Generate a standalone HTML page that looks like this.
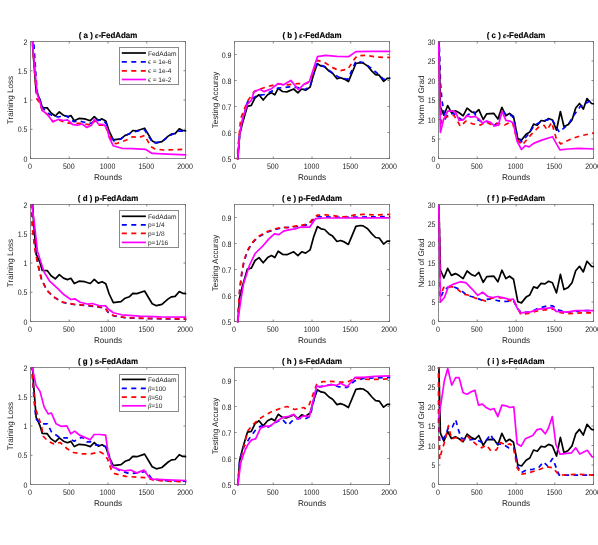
<!DOCTYPE html>
<html><head><meta charset="utf-8"><style>
html,body{margin:0;padding:0;background:#fff;width:598px;height:545px;overflow:hidden;position:relative}
svg{will-change:transform} svg text{font-family:"Liberation Sans",sans-serif;text-rendering:geometricPrecision}
</style></head><body>
<svg width="598" height="545" viewBox="0 0 598 545" style="display:block;position:absolute;left:0;top:0">
<rect x="0" y="0" width="598" height="545" fill="#ffffff"/>
<clipPath id="cp00"><rect x="29.5" y="41.0" width="157.0" height="118.5"/></clipPath>
<rect x="30.5" y="41.5" width="155.0" height="117.0" fill="none" stroke="#8a8a8a" stroke-width="1"/>
<g clip-path="url(#cp00)" fill="none" stroke-linejoin="round" stroke-linecap="butt">
<path d="M32.2,33.4 L33.4,56.5 L36.2,91.8 L37.5,93.9 L40.0,99.9 L42.3,107.6 L47.2,107.8 L51.1,113.0 L55.3,116.0 L59.3,111.9 L63.5,115.3 L67.5,116.8 L70.9,115.5 L74.3,120.7 L79.0,118.4 L84.7,118.9 L90.3,120.7 L94.3,116.6 L98.3,120.3 L102.1,118.9 L105.8,121.0 L109.2,131.2 L113.3,139.8 L121.0,138.8 L125.1,135.4 L129.3,134.0 L132.8,130.5 L136.9,130.8 L144.6,128.2 L152.2,140.9 L156.4,142.9 L161.9,141.6 L168.2,136.1 L171.6,134.0 L175.1,133.6 L179.3,128.8 L182.7,130.5 L186.5,130.8" stroke="#000000" stroke-width="1.7"/>
<path d="M33.0,35.4 L33.7,41.4 L36.5,83.4 L37.5,93.4 L40.0,100.4 L43.5,108.9 L49.4,114.1 L54.1,116.4 L58.7,117.0 L63.4,115.2 L67.5,116.4 L70.4,119.3 L74.0,121.7 L79.8,121.1 L84.5,122.3 L91.5,123.4 L94.5,119.3 L98.5,120.5 L103.2,119.9 L106.7,124.6 L109.2,134.0 L114.0,140.9 L120.3,139.1 L125.8,135.4 L132.8,131.9 L144.6,129.8 L152.9,143.0 L161.9,141.6 L170.2,135.4 L178.6,131.2 L186.5,131.2" stroke="#0000ff" stroke-width="1.7" stroke-dasharray="4.8 4.2"/>
<path d="M31.7,35.4 L32.2,41.4 L35.9,87.4 L36.9,99.0 L39.4,102.4 L42.3,110.5 L48.2,115.2 L52.9,121.7 L57.6,119.3 L64.6,122.3 L70.4,123.4 L79.8,123.4 L84.5,124.0 L91.5,125.2 L95.0,120.5 L98.5,125.2 L104.4,125.2 L107.9,131.6 L112.6,142.3 L116.1,143.7 L125.8,140.3 L132.8,136.8 L139.0,137.5 L144.6,135.4 L150.8,146.5 L155.0,148.9 L163.3,150.0 L174.4,149.7 L186.5,149.3" stroke="#ff0000" stroke-width="1.7" stroke-dasharray="4.8 4.2"/>
<path d="M32.0,37.4 L32.3,41.4 L37.1,93.4 L40.0,102.3 L42.3,110.5 L47.0,114.1 L52.9,121.7 L58.7,119.3 L63.4,120.5 L67.5,119.9 L72.8,124.6 L77.5,125.2 L82.2,124.0 L86.8,127.5 L91.5,125.2 L94.5,119.3 L98.5,124.0 L103.8,124.6 L107.1,128.4 L109.2,137.5 L113.3,145.8 L121.7,148.3 L132.8,148.6 L145.3,149.3 L152.2,153.4 L167.5,154.1 L186.5,154.8" stroke="#ff00ff" stroke-width="1.7"/>
</g>
<line x1="30.50" y1="158.5" x2="30.50" y2="156.5" stroke="#666" stroke-width="0.8"/>
<line x1="30.50" y1="41.5" x2="30.50" y2="43.5" stroke="#666" stroke-width="0.8"/>
<text transform="translate(30.00,168.5) scale(0.88,1)" text-anchor="middle" font-size="8.0" fill="#222">0</text>
<line x1="69.25" y1="158.5" x2="69.25" y2="156.5" stroke="#666" stroke-width="0.8"/>
<line x1="69.25" y1="41.5" x2="69.25" y2="43.5" stroke="#666" stroke-width="0.8"/>
<text transform="translate(68.75,168.5) scale(0.88,1)" text-anchor="middle" font-size="8.0" fill="#222">500</text>
<line x1="108.00" y1="158.5" x2="108.00" y2="156.5" stroke="#666" stroke-width="0.8"/>
<line x1="108.00" y1="41.5" x2="108.00" y2="43.5" stroke="#666" stroke-width="0.8"/>
<text transform="translate(107.50,168.5) scale(0.88,1)" text-anchor="middle" font-size="8.0" fill="#222">1000</text>
<line x1="146.75" y1="158.5" x2="146.75" y2="156.5" stroke="#666" stroke-width="0.8"/>
<line x1="146.75" y1="41.5" x2="146.75" y2="43.5" stroke="#666" stroke-width="0.8"/>
<text transform="translate(146.25,168.5) scale(0.88,1)" text-anchor="middle" font-size="8.0" fill="#222">1500</text>
<line x1="185.50" y1="158.5" x2="185.50" y2="156.5" stroke="#666" stroke-width="0.8"/>
<line x1="185.50" y1="41.5" x2="185.50" y2="43.5" stroke="#666" stroke-width="0.8"/>
<text transform="translate(185.00,168.5) scale(0.88,1)" text-anchor="middle" font-size="8.0" fill="#222">2000</text>
<line x1="30.5" y1="158.50" x2="32.5" y2="158.50" stroke="#666" stroke-width="0.8"/>
<line x1="185.5" y1="158.50" x2="183.5" y2="158.50" stroke="#666" stroke-width="0.8"/>
<text transform="translate(27.5,161.50) scale(0.88,1)" text-anchor="end" font-size="8.0" fill="#222">0</text>
<line x1="30.5" y1="129.25" x2="32.5" y2="129.25" stroke="#666" stroke-width="0.8"/>
<line x1="185.5" y1="129.25" x2="183.5" y2="129.25" stroke="#666" stroke-width="0.8"/>
<text transform="translate(27.5,132.25) scale(0.88,1)" text-anchor="end" font-size="8.0" fill="#222">0.5</text>
<line x1="30.5" y1="100.00" x2="32.5" y2="100.00" stroke="#666" stroke-width="0.8"/>
<line x1="185.5" y1="100.00" x2="183.5" y2="100.00" stroke="#666" stroke-width="0.8"/>
<text transform="translate(27.5,103.00) scale(0.88,1)" text-anchor="end" font-size="8.0" fill="#222">1</text>
<line x1="30.5" y1="70.75" x2="32.5" y2="70.75" stroke="#666" stroke-width="0.8"/>
<line x1="185.5" y1="70.75" x2="183.5" y2="70.75" stroke="#666" stroke-width="0.8"/>
<text transform="translate(27.5,73.75) scale(0.88,1)" text-anchor="end" font-size="8.0" fill="#222">1.5</text>
<line x1="30.5" y1="41.50" x2="32.5" y2="41.50" stroke="#666" stroke-width="0.8"/>
<line x1="185.5" y1="41.50" x2="183.5" y2="41.50" stroke="#666" stroke-width="0.8"/>
<text transform="translate(27.5,44.50) scale(0.88,1)" text-anchor="end" font-size="8.0" fill="#222">2</text>
<text x="108.0" y="179.7" text-anchor="middle" font-size="8.2" fill="#222">Rounds</text>
<text transform="translate(13.3,100.0) rotate(-90)" x="0" y="0" text-anchor="middle" font-size="8.1" fill="#222">Training Loss</text>
<text transform="translate(108.0,38.2) scale(0.97,1)" text-anchor="middle" font-size="8.2" font-weight="bold" fill="#000" stroke="#000" stroke-width="0.15">( a ) <tspan font-family='Liberation Serif' font-style='italic' font-weight='bold'>&#x3F5;</tspan>-FedAdam</text>
<rect x="119.5" y="47.5" width="59" height="37.0" fill="#fff" stroke="#8a8a8a" stroke-width="1"/>
<line x1="121.8" y1="53" x2="145.9" y2="53" stroke="#000000" stroke-width="1.7"/>
<text x="147.9" y="55.5" font-size="6.6" fill="#1e1e1e">FedAdam</text>
<line x1="121.8" y1="61.8" x2="145.9" y2="61.8" stroke="#0000ff" stroke-width="1.7" stroke-dasharray="5 4.5"/>
<text x="147.9" y="64.3" font-size="6.6" fill="#1e1e1e">&#x3F5; = 1e-6</text>
<line x1="121.8" y1="70.8" x2="145.9" y2="70.8" stroke="#ff0000" stroke-width="1.7" stroke-dasharray="5 4.5"/>
<text x="147.9" y="73.3" font-size="6.6" fill="#1e1e1e">&#x3F5; = 1e-4</text>
<line x1="121.8" y1="79.5" x2="145.9" y2="79.5" stroke="#ff00ff" stroke-width="1.7"/>
<text x="147.9" y="82.0" font-size="6.6" fill="#1e1e1e">&#x3F5; = 1e-2</text>
<clipPath id="cp01"><rect x="233.5" y="41.0" width="157.0" height="118.5"/></clipPath>
<rect x="234.5" y="41.5" width="155.0" height="117.0" fill="none" stroke="#8a8a8a" stroke-width="1"/>
<g clip-path="url(#cp01)" fill="none" stroke-linejoin="round" stroke-linecap="butt">
<path d="M237.1,176.4 L237.8,159.4 L239.7,134.3 L242.6,122.7 L247.4,106.3 L251.3,105.4 L255.1,97.7 L259.0,94.8 L263.2,100.0 L267.6,94.8 L271.5,92.8 L274.8,94.8 L278.2,88.4 L282.5,91.5 L286.9,91.9 L293.7,89.0 L297.9,92.8 L301.7,89.0 L305.6,90.3 L310.1,87.1 L313.7,74.0 L317.4,63.8 L321.0,66.0 L324.6,66.7 L329.0,71.1 L332.6,73.3 L337.0,78.7 L340.6,77.7 L344.3,79.1 L348.4,81.6 L355.9,63.5 L360.3,62.7 L363.2,63.1 L367.6,66.0 L371.9,71.1 L375.6,74.7 L379.2,75.2 L383.6,81.3 L387.2,78.4 L390.5,78.4" stroke="#000000" stroke-width="1.7"/>
<path d="M237.1,176.4 L237.8,158.4 L239.7,133.4 L242.6,120.4 L247.4,102.2 L257.0,95.5 L264.8,94.5 L278.2,88.1 L289.8,86.8 L298.5,87.7 L305.0,89.5 L310.1,86.5 L316.6,64.0 L323.9,66.2 L331.2,72.0 L338.5,77.1 L347.9,79.3 L355.9,61.1 L363.2,62.5 L370.5,67.6 L379.2,74.9 L383.6,79.3 L390.5,77.9" stroke="#0000ff" stroke-width="1.7" stroke-dasharray="4.8 4.2"/>
<path d="M236.9,171.4 L237.8,149.4 L240.7,118.6 L247.4,101.2 L254.2,91.6 L260.9,88.7 L270.5,85.8 L278.2,83.9 L287.9,84.9 L297.5,83.5 L305.2,83.9 L309.5,81.9 L317.4,60.4 L324.6,62.5 L332.6,67.6 L339.9,70.8 L347.9,69.1 L354.5,58.9 L357.4,55.7 L366.1,55.3 L377.7,57.2 L390.5,57.5" stroke="#ff0000" stroke-width="1.7" stroke-dasharray="4.8 4.2"/>
<path d="M237.1,176.4 L237.8,159.0 L239.7,134.0 L242.6,118.6 L247.4,104.1 L251.3,100.3 L254.2,91.6 L259.9,89.3 L263.8,91.6 L271.5,88.7 L278.2,83.5 L283.1,84.9 L290.8,80.4 L298.5,89.7 L304.3,83.9 L309.4,81.4 L317.4,56.7 L325.4,55.3 L337.0,56.3 L348.6,56.7 L355.9,51.6 L370.5,51.3 L390.5,51.3" stroke="#ff00ff" stroke-width="1.7"/>
</g>
<line x1="234.50" y1="158.5" x2="234.50" y2="156.5" stroke="#666" stroke-width="0.8"/>
<line x1="234.50" y1="41.5" x2="234.50" y2="43.5" stroke="#666" stroke-width="0.8"/>
<text transform="translate(234.00,168.5) scale(0.88,1)" text-anchor="middle" font-size="8.0" fill="#222">0</text>
<line x1="273.25" y1="158.5" x2="273.25" y2="156.5" stroke="#666" stroke-width="0.8"/>
<line x1="273.25" y1="41.5" x2="273.25" y2="43.5" stroke="#666" stroke-width="0.8"/>
<text transform="translate(272.75,168.5) scale(0.88,1)" text-anchor="middle" font-size="8.0" fill="#222">500</text>
<line x1="312.00" y1="158.5" x2="312.00" y2="156.5" stroke="#666" stroke-width="0.8"/>
<line x1="312.00" y1="41.5" x2="312.00" y2="43.5" stroke="#666" stroke-width="0.8"/>
<text transform="translate(311.50,168.5) scale(0.88,1)" text-anchor="middle" font-size="8.0" fill="#222">1000</text>
<line x1="350.75" y1="158.5" x2="350.75" y2="156.5" stroke="#666" stroke-width="0.8"/>
<line x1="350.75" y1="41.5" x2="350.75" y2="43.5" stroke="#666" stroke-width="0.8"/>
<text transform="translate(350.25,168.5) scale(0.88,1)" text-anchor="middle" font-size="8.0" fill="#222">1500</text>
<line x1="389.50" y1="158.5" x2="389.50" y2="156.5" stroke="#666" stroke-width="0.8"/>
<line x1="389.50" y1="41.5" x2="389.50" y2="43.5" stroke="#666" stroke-width="0.8"/>
<text transform="translate(389.00,168.5) scale(0.88,1)" text-anchor="middle" font-size="8.0" fill="#222">2000</text>
<line x1="234.5" y1="158.50" x2="236.5" y2="158.50" stroke="#666" stroke-width="0.8"/>
<line x1="389.5" y1="158.50" x2="387.5" y2="158.50" stroke="#666" stroke-width="0.8"/>
<text transform="translate(231.5,161.50) scale(0.88,1)" text-anchor="end" font-size="8.0" fill="#222">0.5</text>
<line x1="234.5" y1="132.50" x2="236.5" y2="132.50" stroke="#666" stroke-width="0.8"/>
<line x1="389.5" y1="132.50" x2="387.5" y2="132.50" stroke="#666" stroke-width="0.8"/>
<text transform="translate(231.5,135.50) scale(0.88,1)" text-anchor="end" font-size="8.0" fill="#222">0.6</text>
<line x1="234.5" y1="106.50" x2="236.5" y2="106.50" stroke="#666" stroke-width="0.8"/>
<line x1="389.5" y1="106.50" x2="387.5" y2="106.50" stroke="#666" stroke-width="0.8"/>
<text transform="translate(231.5,109.50) scale(0.88,1)" text-anchor="end" font-size="8.0" fill="#222">0.7</text>
<line x1="234.5" y1="80.50" x2="236.5" y2="80.50" stroke="#666" stroke-width="0.8"/>
<line x1="389.5" y1="80.50" x2="387.5" y2="80.50" stroke="#666" stroke-width="0.8"/>
<text transform="translate(231.5,83.50) scale(0.88,1)" text-anchor="end" font-size="8.0" fill="#222">0.8</text>
<line x1="234.5" y1="54.50" x2="236.5" y2="54.50" stroke="#666" stroke-width="0.8"/>
<line x1="389.5" y1="54.50" x2="387.5" y2="54.50" stroke="#666" stroke-width="0.8"/>
<text transform="translate(231.5,57.50) scale(0.88,1)" text-anchor="end" font-size="8.0" fill="#222">0.9</text>
<text x="312.0" y="179.7" text-anchor="middle" font-size="8.2" fill="#222">Rounds</text>
<text transform="translate(217.6,100.0) rotate(-90)" x="0" y="0" text-anchor="middle" font-size="8.1" fill="#222">Testing Accuray</text>
<text transform="translate(312.0,38.2) scale(0.97,1)" text-anchor="middle" font-size="8.2" font-weight="bold" fill="#000" stroke="#000" stroke-width="0.15">( b ) <tspan font-family='Liberation Serif' font-style='italic' font-weight='bold'>&#x3F5;</tspan>-FedAdam</text>
<clipPath id="cp02"><rect x="437.5" y="41.0" width="157.0" height="118.5"/></clipPath>
<rect x="438.5" y="41.5" width="155.0" height="117.0" fill="none" stroke="#8a8a8a" stroke-width="1"/>
<g clip-path="url(#cp02)" fill="none" stroke-linejoin="round" stroke-linecap="butt">
<path d="M438.8,38.4 L440.4,107.2 L443.9,115.2 L447.7,105.6 L451.4,112.6 L455.4,110.8 L459.1,112.8 L463.1,115.8 L467.1,108.2 L471.8,112.0 L475.1,113.2 L478.8,109.6 L483.2,119.5 L486.8,113.8 L493.9,113.4 L497.9,119.0 L501.9,107.4 L505.9,115.8 L509.5,113.4 L513.5,116.4 L517.8,138.9 L521.5,140.1 L526.1,134.3 L529.8,132.1 L533.6,124.1 L537.3,125.3 L541.1,120.5 L544.9,121.1 L548.6,118.5 L552.4,120.0 L556.5,130.1 L560.4,111.5 L564.0,126.8 L568.2,124.6 L572.0,120.0 L575.7,108.0 L579.5,103.5 L583.3,109.1 L587.0,98.5 L591.5,103.5 L594.0,103.9" stroke="#000000" stroke-width="1.7"/>
<path d="M439.1,38.4 L440.5,83.1 L442.0,100.4 L445.0,119.1 L448.4,113.7 L453.7,113.7 L457.7,117.1 L461.8,119.8 L468.4,114.4 L473.8,111.7 L477.8,119.8 L481.8,121.8 L487.0,121.4 L493.9,125.8 L498.0,122.4 L502.6,111.1 L507.2,115.7 L511.3,115.1 L514.0,119.4 L517.0,135.2 L521.5,141.9 L527.6,135.2 L534.3,125.4 L541.1,121.6 L551.6,118.6 L559.2,132.1 L568.2,124.6 L574.2,114.8 L580.2,106.6 L589.3,101.3 L594.0,99.3" stroke="#0000ff" stroke-width="1.7" stroke-dasharray="4.8 4.2"/>
<path d="M439.0,38.4 L440.0,101.4 L441.7,123.1 L445.7,117.1 L450.4,116.1 L453.7,115.1 L457.1,120.4 L460.4,126.4 L465.8,121.1 L472.5,123.8 L480.5,125.1 L485.8,121.8 L491.0,124.4 L498.0,123.4 L504.6,125.1 L509.9,122.4 L512.5,122.4 L517.0,139.7 L522.3,144.9 L530.6,135.2 L538.1,127.6 L544.1,125.4 L547.1,129.9 L551.6,122.4 L556.2,138.2 L560.7,143.9 L571.2,138.9 L580.2,135.9 L594.0,132.9" stroke="#ff0000" stroke-width="1.7" stroke-dasharray="4.8 4.2"/>
<path d="M438.6,38.4 L439.7,95.0 L440.4,132.5 L443.7,119.1 L447.7,111.1 L452.4,110.8 L455.7,112.4 L459.1,120.4 L463.1,119.8 L467.1,115.7 L471.1,117.1 L475.1,116.4 L479.1,119.1 L482.5,123.1 L486.5,121.1 L490.5,122.4 L494.5,125.8 L498.5,125.1 L501.9,111.1 L505.9,120.4 L509.9,121.1 L513.3,122.9 L517.0,141.2 L521.5,149.5 L525.3,145.7 L529.1,146.9 L533.6,143.4 L541.1,140.4 L552.4,136.7 L559.9,149.9 L568.2,149.0 L578.7,148.4 L594.0,149.0" stroke="#ff00ff" stroke-width="1.7"/>
</g>
<line x1="438.50" y1="158.5" x2="438.50" y2="156.5" stroke="#666" stroke-width="0.8"/>
<line x1="438.50" y1="41.5" x2="438.50" y2="43.5" stroke="#666" stroke-width="0.8"/>
<text transform="translate(438.00,168.5) scale(0.88,1)" text-anchor="middle" font-size="8.0" fill="#222">0</text>
<line x1="477.25" y1="158.5" x2="477.25" y2="156.5" stroke="#666" stroke-width="0.8"/>
<line x1="477.25" y1="41.5" x2="477.25" y2="43.5" stroke="#666" stroke-width="0.8"/>
<text transform="translate(476.75,168.5) scale(0.88,1)" text-anchor="middle" font-size="8.0" fill="#222">500</text>
<line x1="516.00" y1="158.5" x2="516.00" y2="156.5" stroke="#666" stroke-width="0.8"/>
<line x1="516.00" y1="41.5" x2="516.00" y2="43.5" stroke="#666" stroke-width="0.8"/>
<text transform="translate(515.50,168.5) scale(0.88,1)" text-anchor="middle" font-size="8.0" fill="#222">1000</text>
<line x1="554.75" y1="158.5" x2="554.75" y2="156.5" stroke="#666" stroke-width="0.8"/>
<line x1="554.75" y1="41.5" x2="554.75" y2="43.5" stroke="#666" stroke-width="0.8"/>
<text transform="translate(554.25,168.5) scale(0.88,1)" text-anchor="middle" font-size="8.0" fill="#222">1500</text>
<line x1="593.50" y1="158.5" x2="593.50" y2="156.5" stroke="#666" stroke-width="0.8"/>
<line x1="593.50" y1="41.5" x2="593.50" y2="43.5" stroke="#666" stroke-width="0.8"/>
<text transform="translate(593.00,168.5) scale(0.88,1)" text-anchor="middle" font-size="8.0" fill="#222">2000</text>
<line x1="438.5" y1="158.50" x2="440.5" y2="158.50" stroke="#666" stroke-width="0.8"/>
<line x1="593.5" y1="158.50" x2="591.5" y2="158.50" stroke="#666" stroke-width="0.8"/>
<text transform="translate(435.5,161.50) scale(0.88,1)" text-anchor="end" font-size="8.0" fill="#222">0</text>
<line x1="438.5" y1="139.00" x2="440.5" y2="139.00" stroke="#666" stroke-width="0.8"/>
<line x1="593.5" y1="139.00" x2="591.5" y2="139.00" stroke="#666" stroke-width="0.8"/>
<text transform="translate(435.5,142.00) scale(0.88,1)" text-anchor="end" font-size="8.0" fill="#222">5</text>
<line x1="438.5" y1="119.50" x2="440.5" y2="119.50" stroke="#666" stroke-width="0.8"/>
<line x1="593.5" y1="119.50" x2="591.5" y2="119.50" stroke="#666" stroke-width="0.8"/>
<text transform="translate(435.5,122.50) scale(0.88,1)" text-anchor="end" font-size="8.0" fill="#222">10</text>
<line x1="438.5" y1="100.00" x2="440.5" y2="100.00" stroke="#666" stroke-width="0.8"/>
<line x1="593.5" y1="100.00" x2="591.5" y2="100.00" stroke="#666" stroke-width="0.8"/>
<text transform="translate(435.5,103.00) scale(0.88,1)" text-anchor="end" font-size="8.0" fill="#222">15</text>
<line x1="438.5" y1="80.50" x2="440.5" y2="80.50" stroke="#666" stroke-width="0.8"/>
<line x1="593.5" y1="80.50" x2="591.5" y2="80.50" stroke="#666" stroke-width="0.8"/>
<text transform="translate(435.5,83.50) scale(0.88,1)" text-anchor="end" font-size="8.0" fill="#222">20</text>
<line x1="438.5" y1="61.00" x2="440.5" y2="61.00" stroke="#666" stroke-width="0.8"/>
<line x1="593.5" y1="61.00" x2="591.5" y2="61.00" stroke="#666" stroke-width="0.8"/>
<text transform="translate(435.5,64.00) scale(0.88,1)" text-anchor="end" font-size="8.0" fill="#222">25</text>
<line x1="438.5" y1="41.50" x2="440.5" y2="41.50" stroke="#666" stroke-width="0.8"/>
<line x1="593.5" y1="41.50" x2="591.5" y2="41.50" stroke="#666" stroke-width="0.8"/>
<text transform="translate(435.5,44.50) scale(0.88,1)" text-anchor="end" font-size="8.0" fill="#222">30</text>
<text x="516.0" y="179.7" text-anchor="middle" font-size="8.2" fill="#222">Rounds</text>
<text transform="translate(424.3,100.0) rotate(-90)" x="0" y="0" text-anchor="middle" font-size="8.1" fill="#222">Norm of Grad</text>
<text transform="translate(516.0,38.2) scale(0.97,1)" text-anchor="middle" font-size="8.2" font-weight="bold" fill="#000" stroke="#000" stroke-width="0.15">( c ) <tspan font-family='Liberation Serif' font-style='italic' font-weight='bold'>&#x3F5;</tspan>-FedAdam</text>
<clipPath id="cp10"><rect x="29.5" y="204.0" width="157.0" height="118.5"/></clipPath>
<rect x="30.5" y="204.5" width="155.0" height="117.0" fill="none" stroke="#8a8a8a" stroke-width="1"/>
<g clip-path="url(#cp10)" fill="none" stroke-linejoin="round" stroke-linecap="butt">
<path d="M32.2,196.2 L33.4,219.3 L36.2,254.6 L37.5,256.7 L40.0,262.7 L42.3,270.4 L47.2,270.6 L51.1,275.8 L55.3,278.8 L59.3,274.7 L63.5,278.1 L67.5,279.6 L70.9,278.3 L74.3,283.5 L79.0,281.2 L84.7,281.7 L90.3,283.5 L94.3,279.4 L98.3,283.1 L102.1,281.7 L105.8,283.8 L109.2,294.0 L113.3,302.6 L121.0,301.6 L125.1,298.2 L129.3,296.8 L132.8,293.3 L136.9,293.6 L144.6,291.0 L152.2,303.7 L156.4,305.7 L161.9,304.4 L168.2,298.9 L171.6,296.8 L175.1,296.4 L179.3,291.6 L182.7,293.3 L186.5,293.6" stroke="#000000" stroke-width="1.7"/>
<path d="M31.6,203.5 L31.8,210.5 L32.8,230.5 L35.4,250.5 L38.0,264.5 L41.7,279.7 L47.0,290.4 L53.7,297.1 L63.1,302.5 L73.8,304.5 L84.5,305.4 L95.2,306.5 L105.3,308.0 L108.1,312.3 L113.6,315.8 L126.1,317.9 L146.9,318.6 L186.8,319.3" stroke="#0000ff" stroke-width="1.7" stroke-dasharray="4.8 4.2"/>
<path d="M31.3,203.2 L31.5,210.2 L32.5,230.2 L35.1,250.2 L37.7,264.2 L41.4,279.4 L46.7,290.1 L53.4,296.8 L62.8,302.2 L73.5,304.2 L84.2,305.1 L94.9,306.2 L105.0,307.7 L107.8,312.0 L113.3,315.5 L125.8,317.6 L146.6,318.3 L186.5,319.0" stroke="#ff0000" stroke-width="1.7" stroke-dasharray="4.8 4.2"/>
<path d="M31.5,203.2 L34.0,220.2 L36.0,238.2 L37.4,251.2 L40.7,261.4 L44.1,272.1 L49.4,280.8 L58.1,288.8 L64.1,294.8 L70.8,299.5 L74.8,298.8 L80.2,302.2 L88.2,304.2 L92.2,303.5 L98.9,305.5 L105.6,305.9 L108.5,309.3 L113.3,312.7 L121.7,314.8 L139.7,316.2 L160.5,316.9 L186.5,317.2" stroke="#ff00ff" stroke-width="1.7"/>
</g>
<line x1="30.50" y1="321.5" x2="30.50" y2="319.5" stroke="#666" stroke-width="0.8"/>
<line x1="30.50" y1="204.5" x2="30.50" y2="206.5" stroke="#666" stroke-width="0.8"/>
<text transform="translate(30.00,331.5) scale(0.88,1)" text-anchor="middle" font-size="8.0" fill="#222">0</text>
<line x1="69.25" y1="321.5" x2="69.25" y2="319.5" stroke="#666" stroke-width="0.8"/>
<line x1="69.25" y1="204.5" x2="69.25" y2="206.5" stroke="#666" stroke-width="0.8"/>
<text transform="translate(68.75,331.5) scale(0.88,1)" text-anchor="middle" font-size="8.0" fill="#222">500</text>
<line x1="108.00" y1="321.5" x2="108.00" y2="319.5" stroke="#666" stroke-width="0.8"/>
<line x1="108.00" y1="204.5" x2="108.00" y2="206.5" stroke="#666" stroke-width="0.8"/>
<text transform="translate(107.50,331.5) scale(0.88,1)" text-anchor="middle" font-size="8.0" fill="#222">1000</text>
<line x1="146.75" y1="321.5" x2="146.75" y2="319.5" stroke="#666" stroke-width="0.8"/>
<line x1="146.75" y1="204.5" x2="146.75" y2="206.5" stroke="#666" stroke-width="0.8"/>
<text transform="translate(146.25,331.5) scale(0.88,1)" text-anchor="middle" font-size="8.0" fill="#222">1500</text>
<line x1="185.50" y1="321.5" x2="185.50" y2="319.5" stroke="#666" stroke-width="0.8"/>
<line x1="185.50" y1="204.5" x2="185.50" y2="206.5" stroke="#666" stroke-width="0.8"/>
<text transform="translate(185.00,331.5) scale(0.88,1)" text-anchor="middle" font-size="8.0" fill="#222">2000</text>
<line x1="30.5" y1="321.50" x2="32.5" y2="321.50" stroke="#666" stroke-width="0.8"/>
<line x1="185.5" y1="321.50" x2="183.5" y2="321.50" stroke="#666" stroke-width="0.8"/>
<text transform="translate(27.5,324.50) scale(0.88,1)" text-anchor="end" font-size="8.0" fill="#222">0</text>
<line x1="30.5" y1="292.25" x2="32.5" y2="292.25" stroke="#666" stroke-width="0.8"/>
<line x1="185.5" y1="292.25" x2="183.5" y2="292.25" stroke="#666" stroke-width="0.8"/>
<text transform="translate(27.5,295.25) scale(0.88,1)" text-anchor="end" font-size="8.0" fill="#222">0.5</text>
<line x1="30.5" y1="263.00" x2="32.5" y2="263.00" stroke="#666" stroke-width="0.8"/>
<line x1="185.5" y1="263.00" x2="183.5" y2="263.00" stroke="#666" stroke-width="0.8"/>
<text transform="translate(27.5,266.00) scale(0.88,1)" text-anchor="end" font-size="8.0" fill="#222">1</text>
<line x1="30.5" y1="233.75" x2="32.5" y2="233.75" stroke="#666" stroke-width="0.8"/>
<line x1="185.5" y1="233.75" x2="183.5" y2="233.75" stroke="#666" stroke-width="0.8"/>
<text transform="translate(27.5,236.75) scale(0.88,1)" text-anchor="end" font-size="8.0" fill="#222">1.5</text>
<line x1="30.5" y1="204.50" x2="32.5" y2="204.50" stroke="#666" stroke-width="0.8"/>
<line x1="185.5" y1="204.50" x2="183.5" y2="204.50" stroke="#666" stroke-width="0.8"/>
<text transform="translate(27.5,207.50) scale(0.88,1)" text-anchor="end" font-size="8.0" fill="#222">2</text>
<text x="108.0" y="342.7" text-anchor="middle" font-size="8.2" fill="#222">Rounds</text>
<text transform="translate(13.3,263.0) rotate(-90)" x="0" y="0" text-anchor="middle" font-size="8.1" fill="#222">Training Loss</text>
<text transform="translate(108.0,201.2) scale(0.97,1)" text-anchor="middle" font-size="8.2" font-weight="bold" fill="#000" stroke="#000" stroke-width="0.15">( d ) p-FedAdam</text>
<rect x="119.5" y="210.5" width="59" height="37.0" fill="#fff" stroke="#8a8a8a" stroke-width="1"/>
<line x1="121.8" y1="216.3" x2="145.9" y2="216.3" stroke="#000000" stroke-width="1.7"/>
<text x="147.9" y="218.8" font-size="6.6" fill="#1e1e1e">FedAdam</text>
<line x1="121.8" y1="224.9" x2="145.9" y2="224.9" stroke="#0000ff" stroke-width="1.7" stroke-dasharray="5 4.5"/>
<text x="147.9" y="227.4" font-size="6.6" fill="#1e1e1e">p=1/4</text>
<line x1="121.8" y1="233.4" x2="145.9" y2="233.4" stroke="#ff0000" stroke-width="1.7" stroke-dasharray="5 4.5"/>
<text x="147.9" y="235.9" font-size="6.6" fill="#1e1e1e">p=1/8</text>
<line x1="121.8" y1="242.4" x2="145.9" y2="242.4" stroke="#ff00ff" stroke-width="1.7"/>
<text x="147.9" y="244.9" font-size="6.6" fill="#1e1e1e">p=1/16</text>
<clipPath id="cp11"><rect x="233.5" y="204.0" width="157.0" height="118.5"/></clipPath>
<rect x="234.5" y="204.5" width="155.0" height="117.0" fill="none" stroke="#8a8a8a" stroke-width="1"/>
<g clip-path="url(#cp11)" fill="none" stroke-linejoin="round" stroke-linecap="butt">
<path d="M237.1,339.2 L237.8,322.2 L239.7,297.1 L242.6,285.5 L247.4,269.1 L251.3,268.2 L255.1,260.5 L259.0,257.6 L263.2,262.8 L267.6,257.6 L271.5,255.6 L274.8,257.6 L278.2,251.2 L282.5,254.3 L286.9,254.7 L293.7,251.8 L297.9,255.6 L301.7,251.8 L305.6,253.1 L310.1,249.9 L313.7,236.8 L317.4,226.6 L321.0,228.8 L324.6,229.5 L329.0,233.9 L332.6,236.1 L337.0,241.5 L340.6,240.5 L344.3,241.9 L348.4,244.4 L355.9,226.3 L360.3,225.5 L363.2,225.9 L367.6,228.8 L371.9,233.9 L375.6,237.5 L379.2,238.0 L383.6,244.1 L387.2,241.2 L390.5,241.2" stroke="#000000" stroke-width="1.7"/>
<path d="M237.0,339.2 L237.9,318.2 L239.8,289.7 L241.9,272.7 L243.7,263.2 L246.9,252.2 L251.5,244.0 L258.0,237.2 L266.2,232.6 L275.4,229.4 L282.7,227.7 L293.4,227.0 L300.2,226.2 L308.8,224.5 L312.5,220.2 L317.3,216.6 L341.2,217.3 L390.5,216.6" stroke="#0000ff" stroke-width="1.7" stroke-dasharray="4.8 4.2"/>
<path d="M236.9,339.2 L237.8,318.2 L239.7,289.2 L241.8,272.2 L243.6,262.7 L246.8,251.7 L251.4,243.4 L257.9,236.6 L266.1,232.0 L275.3,228.8 L282.6,227.1 L290.0,228.0 L293.4,226.3 L300.2,225.5 L308.8,223.8 L312.2,219.5 L317.3,215.2 L325.8,214.9 L332.6,215.6 L341.2,216.9 L348.0,216.6 L354.8,214.9 L363.3,214.4 L375.3,214.9 L390.5,214.4" stroke="#ff0000" stroke-width="1.7" stroke-dasharray="4.8 4.2"/>
<path d="M237.1,339.2 L237.8,321.2 L240.7,300.9 L243.6,283.6 L249.6,265.0 L255.1,253.5 L263.4,245.3 L268.9,238.9 L274.4,233.8 L279.0,234.7 L283.5,231.1 L290.0,229.7 L295.1,228.9 L300.2,227.2 L309.6,227.2 L315.6,218.6 L324.1,218.0 L390.5,217.8" stroke="#ff00ff" stroke-width="1.7"/>
</g>
<line x1="234.50" y1="321.5" x2="234.50" y2="319.5" stroke="#666" stroke-width="0.8"/>
<line x1="234.50" y1="204.5" x2="234.50" y2="206.5" stroke="#666" stroke-width="0.8"/>
<text transform="translate(234.00,331.5) scale(0.88,1)" text-anchor="middle" font-size="8.0" fill="#222">0</text>
<line x1="273.25" y1="321.5" x2="273.25" y2="319.5" stroke="#666" stroke-width="0.8"/>
<line x1="273.25" y1="204.5" x2="273.25" y2="206.5" stroke="#666" stroke-width="0.8"/>
<text transform="translate(272.75,331.5) scale(0.88,1)" text-anchor="middle" font-size="8.0" fill="#222">500</text>
<line x1="312.00" y1="321.5" x2="312.00" y2="319.5" stroke="#666" stroke-width="0.8"/>
<line x1="312.00" y1="204.5" x2="312.00" y2="206.5" stroke="#666" stroke-width="0.8"/>
<text transform="translate(311.50,331.5) scale(0.88,1)" text-anchor="middle" font-size="8.0" fill="#222">1000</text>
<line x1="350.75" y1="321.5" x2="350.75" y2="319.5" stroke="#666" stroke-width="0.8"/>
<line x1="350.75" y1="204.5" x2="350.75" y2="206.5" stroke="#666" stroke-width="0.8"/>
<text transform="translate(350.25,331.5) scale(0.88,1)" text-anchor="middle" font-size="8.0" fill="#222">1500</text>
<line x1="389.50" y1="321.5" x2="389.50" y2="319.5" stroke="#666" stroke-width="0.8"/>
<line x1="389.50" y1="204.5" x2="389.50" y2="206.5" stroke="#666" stroke-width="0.8"/>
<text transform="translate(389.00,331.5) scale(0.88,1)" text-anchor="middle" font-size="8.0" fill="#222">2000</text>
<line x1="234.5" y1="321.50" x2="236.5" y2="321.50" stroke="#666" stroke-width="0.8"/>
<line x1="389.5" y1="321.50" x2="387.5" y2="321.50" stroke="#666" stroke-width="0.8"/>
<text transform="translate(231.5,324.50) scale(0.88,1)" text-anchor="end" font-size="8.0" fill="#222">0.5</text>
<line x1="234.5" y1="295.50" x2="236.5" y2="295.50" stroke="#666" stroke-width="0.8"/>
<line x1="389.5" y1="295.50" x2="387.5" y2="295.50" stroke="#666" stroke-width="0.8"/>
<text transform="translate(231.5,298.50) scale(0.88,1)" text-anchor="end" font-size="8.0" fill="#222">0.6</text>
<line x1="234.5" y1="269.50" x2="236.5" y2="269.50" stroke="#666" stroke-width="0.8"/>
<line x1="389.5" y1="269.50" x2="387.5" y2="269.50" stroke="#666" stroke-width="0.8"/>
<text transform="translate(231.5,272.50) scale(0.88,1)" text-anchor="end" font-size="8.0" fill="#222">0.7</text>
<line x1="234.5" y1="243.50" x2="236.5" y2="243.50" stroke="#666" stroke-width="0.8"/>
<line x1="389.5" y1="243.50" x2="387.5" y2="243.50" stroke="#666" stroke-width="0.8"/>
<text transform="translate(231.5,246.50) scale(0.88,1)" text-anchor="end" font-size="8.0" fill="#222">0.8</text>
<line x1="234.5" y1="217.50" x2="236.5" y2="217.50" stroke="#666" stroke-width="0.8"/>
<line x1="389.5" y1="217.50" x2="387.5" y2="217.50" stroke="#666" stroke-width="0.8"/>
<text transform="translate(231.5,220.50) scale(0.88,1)" text-anchor="end" font-size="8.0" fill="#222">0.9</text>
<text x="312.0" y="342.7" text-anchor="middle" font-size="8.2" fill="#222">Rounds</text>
<text transform="translate(217.6,263.0) rotate(-90)" x="0" y="0" text-anchor="middle" font-size="8.1" fill="#222">Testing Accuray</text>
<text transform="translate(312.0,201.2) scale(0.97,1)" text-anchor="middle" font-size="8.2" font-weight="bold" fill="#000" stroke="#000" stroke-width="0.15">( e ) p-FedAdam</text>
<clipPath id="cp12"><rect x="437.5" y="204.0" width="157.0" height="118.5"/></clipPath>
<rect x="438.5" y="204.5" width="155.0" height="117.0" fill="none" stroke="#8a8a8a" stroke-width="1"/>
<g clip-path="url(#cp12)" fill="none" stroke-linejoin="round" stroke-linecap="butt">
<path d="M438.8,201.2 L440.4,270.0 L443.9,278.0 L447.7,268.4 L451.4,275.4 L455.4,273.6 L459.1,275.6 L463.1,278.6 L467.1,271.0 L471.8,274.8 L475.1,276.0 L478.8,272.4 L483.2,282.3 L486.8,276.6 L493.9,276.2 L497.9,281.8 L501.9,270.2 L505.9,278.6 L509.5,276.2 L513.5,279.2 L517.8,301.7 L521.5,302.9 L526.1,297.1 L529.8,294.9 L533.6,286.9 L537.3,288.1 L541.1,283.3 L544.9,283.9 L548.6,281.3 L552.4,282.8 L556.5,292.9 L560.4,274.3 L564.0,289.6 L568.2,287.4 L572.0,282.8 L575.7,270.8 L579.5,266.3 L583.3,271.9 L587.0,261.3 L591.5,266.3 L594.0,266.7" stroke="#000000" stroke-width="1.7"/>
<path d="M438.8,201.2 L440.4,298.2 L443.7,290.8 L448.4,286.8 L453.7,286.8 L459.7,289.4 L467.1,295.4 L475.1,297.5 L481.8,300.1 L491.2,298.8 L497.9,300.8 L507.2,301.5 L513.5,300.7 L517.8,309.2 L521.5,312.7 L530.6,312.0 L538.1,308.4 L548.6,305.4 L553.2,306.2 L557.7,309.9 L568.2,312.2 L583.3,310.7 L594.0,310.5" stroke="#0000ff" stroke-width="1.7" stroke-dasharray="4.8 4.2"/>
<path d="M438.8,201.2 L440.4,295.4 L443.7,287.4 L448.4,286.8 L452.4,286.8 L457.7,289.4 L463.1,294.1 L469.8,295.4 L475.1,298.1 L480.5,299.5 L485.8,301.1 L491.2,298.1 L497.9,297.5 L504.6,298.1 L509.9,300.8 L513.5,300.2 L520.8,314.5 L530.6,312.9 L538.1,310.7 L553.2,308.9 L557.7,312.2 L568.2,313.7 L583.3,312.9 L594.0,312.9" stroke="#ff0000" stroke-width="1.7" stroke-dasharray="4.8 4.2"/>
<path d="M438.8,201.2 L439.7,262.0 L440.4,302.2 L444.4,297.5 L448.4,286.8 L453.7,284.1 L460.4,281.8 L465.8,282.7 L471.8,288.8 L477.8,295.4 L482.5,292.1 L487.8,296.5 L492.5,297.5 L497.9,296.5 L504.6,298.1 L509.9,299.5 L513.3,299.0 L517.0,307.7 L520.8,312.9 L530.6,311.9 L538.1,309.2 L545.6,308.4 L552.4,307.7 L556.2,311.4 L566.7,312.2 L575.7,310.7 L594.0,310.7" stroke="#ff00ff" stroke-width="1.7"/>
</g>
<line x1="438.50" y1="321.5" x2="438.50" y2="319.5" stroke="#666" stroke-width="0.8"/>
<line x1="438.50" y1="204.5" x2="438.50" y2="206.5" stroke="#666" stroke-width="0.8"/>
<text transform="translate(438.00,331.5) scale(0.88,1)" text-anchor="middle" font-size="8.0" fill="#222">0</text>
<line x1="477.25" y1="321.5" x2="477.25" y2="319.5" stroke="#666" stroke-width="0.8"/>
<line x1="477.25" y1="204.5" x2="477.25" y2="206.5" stroke="#666" stroke-width="0.8"/>
<text transform="translate(476.75,331.5) scale(0.88,1)" text-anchor="middle" font-size="8.0" fill="#222">500</text>
<line x1="516.00" y1="321.5" x2="516.00" y2="319.5" stroke="#666" stroke-width="0.8"/>
<line x1="516.00" y1="204.5" x2="516.00" y2="206.5" stroke="#666" stroke-width="0.8"/>
<text transform="translate(515.50,331.5) scale(0.88,1)" text-anchor="middle" font-size="8.0" fill="#222">1000</text>
<line x1="554.75" y1="321.5" x2="554.75" y2="319.5" stroke="#666" stroke-width="0.8"/>
<line x1="554.75" y1="204.5" x2="554.75" y2="206.5" stroke="#666" stroke-width="0.8"/>
<text transform="translate(554.25,331.5) scale(0.88,1)" text-anchor="middle" font-size="8.0" fill="#222">1500</text>
<line x1="593.50" y1="321.5" x2="593.50" y2="319.5" stroke="#666" stroke-width="0.8"/>
<line x1="593.50" y1="204.5" x2="593.50" y2="206.5" stroke="#666" stroke-width="0.8"/>
<text transform="translate(593.00,331.5) scale(0.88,1)" text-anchor="middle" font-size="8.0" fill="#222">2000</text>
<line x1="438.5" y1="321.50" x2="440.5" y2="321.50" stroke="#666" stroke-width="0.8"/>
<line x1="593.5" y1="321.50" x2="591.5" y2="321.50" stroke="#666" stroke-width="0.8"/>
<text transform="translate(435.5,324.50) scale(0.88,1)" text-anchor="end" font-size="8.0" fill="#222">0</text>
<line x1="438.5" y1="302.00" x2="440.5" y2="302.00" stroke="#666" stroke-width="0.8"/>
<line x1="593.5" y1="302.00" x2="591.5" y2="302.00" stroke="#666" stroke-width="0.8"/>
<text transform="translate(435.5,305.00) scale(0.88,1)" text-anchor="end" font-size="8.0" fill="#222">5</text>
<line x1="438.5" y1="282.50" x2="440.5" y2="282.50" stroke="#666" stroke-width="0.8"/>
<line x1="593.5" y1="282.50" x2="591.5" y2="282.50" stroke="#666" stroke-width="0.8"/>
<text transform="translate(435.5,285.50) scale(0.88,1)" text-anchor="end" font-size="8.0" fill="#222">10</text>
<line x1="438.5" y1="263.00" x2="440.5" y2="263.00" stroke="#666" stroke-width="0.8"/>
<line x1="593.5" y1="263.00" x2="591.5" y2="263.00" stroke="#666" stroke-width="0.8"/>
<text transform="translate(435.5,266.00) scale(0.88,1)" text-anchor="end" font-size="8.0" fill="#222">15</text>
<line x1="438.5" y1="243.50" x2="440.5" y2="243.50" stroke="#666" stroke-width="0.8"/>
<line x1="593.5" y1="243.50" x2="591.5" y2="243.50" stroke="#666" stroke-width="0.8"/>
<text transform="translate(435.5,246.50) scale(0.88,1)" text-anchor="end" font-size="8.0" fill="#222">20</text>
<line x1="438.5" y1="224.00" x2="440.5" y2="224.00" stroke="#666" stroke-width="0.8"/>
<line x1="593.5" y1="224.00" x2="591.5" y2="224.00" stroke="#666" stroke-width="0.8"/>
<text transform="translate(435.5,227.00) scale(0.88,1)" text-anchor="end" font-size="8.0" fill="#222">25</text>
<line x1="438.5" y1="204.50" x2="440.5" y2="204.50" stroke="#666" stroke-width="0.8"/>
<line x1="593.5" y1="204.50" x2="591.5" y2="204.50" stroke="#666" stroke-width="0.8"/>
<text transform="translate(435.5,207.50) scale(0.88,1)" text-anchor="end" font-size="8.0" fill="#222">30</text>
<text x="516.0" y="342.7" text-anchor="middle" font-size="8.2" fill="#222">Rounds</text>
<text transform="translate(424.3,263.0) rotate(-90)" x="0" y="0" text-anchor="middle" font-size="8.1" fill="#222">Norm of Grad</text>
<text transform="translate(516.0,201.2) scale(0.97,1)" text-anchor="middle" font-size="8.2" font-weight="bold" fill="#000" stroke="#000" stroke-width="0.15">( f ) p-FedAdam</text>
<clipPath id="cp20"><rect x="29.5" y="367.0" width="157.0" height="118.5"/></clipPath>
<rect x="30.5" y="367.5" width="155.0" height="117.0" fill="none" stroke="#8a8a8a" stroke-width="1"/>
<g clip-path="url(#cp20)" fill="none" stroke-linejoin="round" stroke-linecap="butt">
<path d="M32.2,359.3 L33.4,382.4 L36.2,417.7 L37.5,419.8 L40.0,425.8 L42.3,433.5 L47.2,433.7 L51.1,438.9 L55.3,441.9 L59.3,437.8 L63.5,441.2 L67.5,442.7 L70.9,441.4 L74.3,446.6 L79.0,444.3 L84.7,444.8 L90.3,446.6 L94.3,442.5 L98.3,446.2 L102.1,444.8 L105.8,446.9 L109.2,457.1 L113.3,465.7 L121.0,464.7 L125.1,461.3 L129.3,459.9 L132.8,456.4 L136.9,456.7 L144.6,454.1 L152.2,466.8 L156.4,468.8 L161.9,467.5 L168.2,462.0 L171.6,459.9 L175.1,459.5 L179.3,454.7 L182.7,456.4 L186.5,456.7" stroke="#000000" stroke-width="1.7"/>
<path d="M31.7,365.3 L34.0,399.0 L36.0,419.1 L40.7,423.8 L47.4,423.8 L51.4,431.8 L60.1,437.8 L66.8,437.8 L74.2,441.2 L82.2,437.1 L86.9,441.8 L90.2,441.6 L96.2,445.2 L100.9,445.2 L105.6,446.5 L107.8,450.7 L111.9,465.3 L118.9,470.1 L129.3,473.6 L136.9,472.9 L146.6,471.5 L151.5,478.4 L160.5,480.5 L186.5,481.2" stroke="#0000ff" stroke-width="1.7" stroke-dasharray="4.8 4.2"/>
<path d="M31.7,365.3 L34.0,395.0 L35.4,408.4 L38.0,415.7 L41.4,425.8 L43.4,436.5 L48.1,441.2 L53.4,443.8 L60.1,442.5 L66.8,448.5 L73.5,452.5 L81.5,453.9 L90.9,453.9 L100.2,451.9 L105.0,454.8 L107.8,459.7 L111.2,469.4 L114.7,473.6 L125.8,476.4 L136.9,477.1 L146.6,477.7 L152.2,479.8 L167.5,481.2 L186.5,481.9" stroke="#ff0000" stroke-width="1.7" stroke-dasharray="4.8 4.2"/>
<path d="M31.7,365.3 L32.0,367.6 L34.0,375.4 L36.0,385.4 L40.0,391.4 L44.1,406.9 L48.1,413.9 L51.4,413.0 L56.1,423.8 L61.4,426.4 L66.8,425.8 L70.8,433.8 L74.8,431.1 L79.5,435.1 L84.2,437.1 L90.2,439.8 L94.2,434.5 L100.2,434.5 L105.6,435.1 L108.5,455.5 L112.6,467.3 L118.9,469.4 L124.4,470.8 L130.7,470.1 L136.9,472.9 L143.9,470.1 L149.4,477.7 L152.9,479.1 L167.5,479.8 L186.5,480.5" stroke="#ff00ff" stroke-width="1.7"/>
</g>
<line x1="30.50" y1="484.5" x2="30.50" y2="482.5" stroke="#666" stroke-width="0.8"/>
<line x1="30.50" y1="367.5" x2="30.50" y2="369.5" stroke="#666" stroke-width="0.8"/>
<text transform="translate(30.00,494.5) scale(0.88,1)" text-anchor="middle" font-size="8.0" fill="#222">0</text>
<line x1="69.25" y1="484.5" x2="69.25" y2="482.5" stroke="#666" stroke-width="0.8"/>
<line x1="69.25" y1="367.5" x2="69.25" y2="369.5" stroke="#666" stroke-width="0.8"/>
<text transform="translate(68.75,494.5) scale(0.88,1)" text-anchor="middle" font-size="8.0" fill="#222">500</text>
<line x1="108.00" y1="484.5" x2="108.00" y2="482.5" stroke="#666" stroke-width="0.8"/>
<line x1="108.00" y1="367.5" x2="108.00" y2="369.5" stroke="#666" stroke-width="0.8"/>
<text transform="translate(107.50,494.5) scale(0.88,1)" text-anchor="middle" font-size="8.0" fill="#222">1000</text>
<line x1="146.75" y1="484.5" x2="146.75" y2="482.5" stroke="#666" stroke-width="0.8"/>
<line x1="146.75" y1="367.5" x2="146.75" y2="369.5" stroke="#666" stroke-width="0.8"/>
<text transform="translate(146.25,494.5) scale(0.88,1)" text-anchor="middle" font-size="8.0" fill="#222">1500</text>
<line x1="185.50" y1="484.5" x2="185.50" y2="482.5" stroke="#666" stroke-width="0.8"/>
<line x1="185.50" y1="367.5" x2="185.50" y2="369.5" stroke="#666" stroke-width="0.8"/>
<text transform="translate(185.00,494.5) scale(0.88,1)" text-anchor="middle" font-size="8.0" fill="#222">2000</text>
<line x1="30.5" y1="484.50" x2="32.5" y2="484.50" stroke="#666" stroke-width="0.8"/>
<line x1="185.5" y1="484.50" x2="183.5" y2="484.50" stroke="#666" stroke-width="0.8"/>
<text transform="translate(27.5,487.50) scale(0.88,1)" text-anchor="end" font-size="8.0" fill="#222">0</text>
<line x1="30.5" y1="455.25" x2="32.5" y2="455.25" stroke="#666" stroke-width="0.8"/>
<line x1="185.5" y1="455.25" x2="183.5" y2="455.25" stroke="#666" stroke-width="0.8"/>
<text transform="translate(27.5,458.25) scale(0.88,1)" text-anchor="end" font-size="8.0" fill="#222">0.5</text>
<line x1="30.5" y1="426.00" x2="32.5" y2="426.00" stroke="#666" stroke-width="0.8"/>
<line x1="185.5" y1="426.00" x2="183.5" y2="426.00" stroke="#666" stroke-width="0.8"/>
<text transform="translate(27.5,429.00) scale(0.88,1)" text-anchor="end" font-size="8.0" fill="#222">1</text>
<line x1="30.5" y1="396.75" x2="32.5" y2="396.75" stroke="#666" stroke-width="0.8"/>
<line x1="185.5" y1="396.75" x2="183.5" y2="396.75" stroke="#666" stroke-width="0.8"/>
<text transform="translate(27.5,399.75) scale(0.88,1)" text-anchor="end" font-size="8.0" fill="#222">1.5</text>
<line x1="30.5" y1="367.50" x2="32.5" y2="367.50" stroke="#666" stroke-width="0.8"/>
<line x1="185.5" y1="367.50" x2="183.5" y2="367.50" stroke="#666" stroke-width="0.8"/>
<text transform="translate(27.5,370.50) scale(0.88,1)" text-anchor="end" font-size="8.0" fill="#222">2</text>
<text x="108.0" y="505.7" text-anchor="middle" font-size="8.2" fill="#222">Rounds</text>
<text transform="translate(13.3,426.0) rotate(-90)" x="0" y="0" text-anchor="middle" font-size="8.1" fill="#222">Training Loss</text>
<text transform="translate(108.0,364.2) scale(0.97,1)" text-anchor="middle" font-size="8.2" font-weight="bold" fill="#000" stroke="#000" stroke-width="0.15">( g ) s-FedAdam</text>
<rect x="119.5" y="374.5" width="59" height="37.0" fill="#fff" stroke="#8a8a8a" stroke-width="1"/>
<line x1="121.8" y1="379.4" x2="145.9" y2="379.4" stroke="#000000" stroke-width="1.7"/>
<text x="147.9" y="381.9" font-size="6.6" fill="#1e1e1e">FedAdam</text>
<line x1="121.8" y1="388.4" x2="145.9" y2="388.4" stroke="#0000ff" stroke-width="1.7" stroke-dasharray="5 4.5"/>
<text x="147.9" y="390.9" font-size="6.6" fill="#1e1e1e"><tspan font-family='Liberation Serif' font-style='italic'>&#x3B2;</tspan>=100</text>
<line x1="121.8" y1="397.1" x2="145.9" y2="397.1" stroke="#ff0000" stroke-width="1.7" stroke-dasharray="5 4.5"/>
<text x="147.9" y="399.6" font-size="6.6" fill="#1e1e1e"><tspan font-family='Liberation Serif' font-style='italic'>&#x3B2;</tspan>=50</text>
<line x1="121.8" y1="405.8" x2="145.9" y2="405.8" stroke="#ff00ff" stroke-width="1.7"/>
<text x="147.9" y="408.3" font-size="6.6" fill="#1e1e1e"><tspan font-family='Liberation Serif' font-style='italic'>&#x3B2;</tspan>=10</text>
<clipPath id="cp21"><rect x="233.5" y="367.0" width="157.0" height="118.5"/></clipPath>
<rect x="234.5" y="367.5" width="155.0" height="117.0" fill="none" stroke="#8a8a8a" stroke-width="1"/>
<g clip-path="url(#cp21)" fill="none" stroke-linejoin="round" stroke-linecap="butt">
<path d="M237.1,502.3 L237.8,485.3 L239.7,460.2 L242.6,448.6 L247.4,432.2 L251.3,431.3 L255.1,423.6 L259.0,420.7 L263.2,425.9 L267.6,420.7 L271.5,418.7 L274.8,420.7 L278.2,414.3 L282.5,417.4 L286.9,417.8 L293.7,414.9 L297.9,418.7 L301.7,414.9 L305.6,416.2 L310.1,413.0 L313.7,399.9 L317.4,389.7 L321.0,391.9 L324.6,392.6 L329.0,397.0 L332.6,399.2 L337.0,404.6 L340.6,403.6 L344.3,405.0 L348.4,407.5 L355.9,389.4 L360.3,388.6 L363.2,389.0 L367.6,391.9 L371.9,397.0 L375.6,400.6 L379.2,401.1 L383.6,407.2 L387.2,404.3 L390.5,404.3" stroke="#000000" stroke-width="1.7"/>
<path d="M237.1,502.3 L237.9,484.3 L239.9,458.5 L243.8,446.8 L249.7,437.9 L255.6,430.1 L260.5,426.1 L268.3,427.1 L276.2,422.2 L282.1,419.3 L288.0,425.2 L293.8,419.3 L299.7,418.3 L305.0,418.8 L310.1,416.6 L315.9,391.9 L318.8,386.8 L331.2,384.6 L338.5,386.8 L347.2,387.5 L354.5,381.0 L363.2,378.4 L390.5,377.4" stroke="#0000ff" stroke-width="1.7" stroke-dasharray="4.8 4.2"/>
<path d="M236.9,502.3 L237.9,480.1 L240.8,458.5 L244.8,442.8 L247.7,431.1 L251.6,426.1 L258.5,419.3 L266.4,414.4 L272.3,411.4 L280.1,408.5 L287.0,406.5 L294.8,409.5 L303.7,407.5 L305.0,408.6 L309.4,404.3 L316.6,384.6 L322.4,381.7 L331.2,381.3 L341.4,382.2 L347.9,381.7 L355.9,378.1 L367.6,379.3 L377.7,379.3 L390.5,378.8" stroke="#ff0000" stroke-width="1.7" stroke-dasharray="4.8 4.2"/>
<path d="M237.1,502.3 L237.9,485.0 L240.8,462.5 L244.8,450.7 L247.7,444.8 L251.6,439.9 L255.6,438.9 L260.5,428.1 L265.4,426.1 L270.3,426.1 L275.2,422.2 L283.0,417.3 L288.9,416.3 L293.8,414.4 L297.8,419.3 L302.7,416.3 L305.0,415.9 L309.4,416.6 L316.6,386.1 L321.0,386.8 L331.2,384.6 L336.3,385.4 L340.6,383.2 L347.2,386.8 L355.2,377.4 L363.2,377.4 L374.8,376.3 L390.5,375.9" stroke="#ff00ff" stroke-width="1.7"/>
</g>
<line x1="234.50" y1="484.5" x2="234.50" y2="482.5" stroke="#666" stroke-width="0.8"/>
<line x1="234.50" y1="367.5" x2="234.50" y2="369.5" stroke="#666" stroke-width="0.8"/>
<text transform="translate(234.00,494.5) scale(0.88,1)" text-anchor="middle" font-size="8.0" fill="#222">0</text>
<line x1="273.25" y1="484.5" x2="273.25" y2="482.5" stroke="#666" stroke-width="0.8"/>
<line x1="273.25" y1="367.5" x2="273.25" y2="369.5" stroke="#666" stroke-width="0.8"/>
<text transform="translate(272.75,494.5) scale(0.88,1)" text-anchor="middle" font-size="8.0" fill="#222">500</text>
<line x1="312.00" y1="484.5" x2="312.00" y2="482.5" stroke="#666" stroke-width="0.8"/>
<line x1="312.00" y1="367.5" x2="312.00" y2="369.5" stroke="#666" stroke-width="0.8"/>
<text transform="translate(311.50,494.5) scale(0.88,1)" text-anchor="middle" font-size="8.0" fill="#222">1000</text>
<line x1="350.75" y1="484.5" x2="350.75" y2="482.5" stroke="#666" stroke-width="0.8"/>
<line x1="350.75" y1="367.5" x2="350.75" y2="369.5" stroke="#666" stroke-width="0.8"/>
<text transform="translate(350.25,494.5) scale(0.88,1)" text-anchor="middle" font-size="8.0" fill="#222">1500</text>
<line x1="389.50" y1="484.5" x2="389.50" y2="482.5" stroke="#666" stroke-width="0.8"/>
<line x1="389.50" y1="367.5" x2="389.50" y2="369.5" stroke="#666" stroke-width="0.8"/>
<text transform="translate(389.00,494.5) scale(0.88,1)" text-anchor="middle" font-size="8.0" fill="#222">2000</text>
<line x1="234.5" y1="484.50" x2="236.5" y2="484.50" stroke="#666" stroke-width="0.8"/>
<line x1="389.5" y1="484.50" x2="387.5" y2="484.50" stroke="#666" stroke-width="0.8"/>
<text transform="translate(231.5,487.50) scale(0.88,1)" text-anchor="end" font-size="8.0" fill="#222">0.5</text>
<line x1="234.5" y1="458.50" x2="236.5" y2="458.50" stroke="#666" stroke-width="0.8"/>
<line x1="389.5" y1="458.50" x2="387.5" y2="458.50" stroke="#666" stroke-width="0.8"/>
<text transform="translate(231.5,461.50) scale(0.88,1)" text-anchor="end" font-size="8.0" fill="#222">0.6</text>
<line x1="234.5" y1="432.50" x2="236.5" y2="432.50" stroke="#666" stroke-width="0.8"/>
<line x1="389.5" y1="432.50" x2="387.5" y2="432.50" stroke="#666" stroke-width="0.8"/>
<text transform="translate(231.5,435.50) scale(0.88,1)" text-anchor="end" font-size="8.0" fill="#222">0.7</text>
<line x1="234.5" y1="406.50" x2="236.5" y2="406.50" stroke="#666" stroke-width="0.8"/>
<line x1="389.5" y1="406.50" x2="387.5" y2="406.50" stroke="#666" stroke-width="0.8"/>
<text transform="translate(231.5,409.50) scale(0.88,1)" text-anchor="end" font-size="8.0" fill="#222">0.8</text>
<line x1="234.5" y1="380.50" x2="236.5" y2="380.50" stroke="#666" stroke-width="0.8"/>
<line x1="389.5" y1="380.50" x2="387.5" y2="380.50" stroke="#666" stroke-width="0.8"/>
<text transform="translate(231.5,383.50) scale(0.88,1)" text-anchor="end" font-size="8.0" fill="#222">0.9</text>
<text x="312.0" y="505.7" text-anchor="middle" font-size="8.2" fill="#222">Rounds</text>
<text transform="translate(217.6,426.0) rotate(-90)" x="0" y="0" text-anchor="middle" font-size="8.1" fill="#222">Testing Accuray</text>
<text transform="translate(312.0,364.2) scale(0.97,1)" text-anchor="middle" font-size="8.2" font-weight="bold" fill="#000" stroke="#000" stroke-width="0.15">( h ) s-FedAdam</text>
<clipPath id="cp22"><rect x="437.5" y="367.0" width="157.0" height="118.5"/></clipPath>
<rect x="438.5" y="367.5" width="155.0" height="117.0" fill="none" stroke="#8a8a8a" stroke-width="1"/>
<g clip-path="url(#cp22)" fill="none" stroke-linejoin="round" stroke-linecap="butt">
<path d="M438.8,364.3 L440.4,433.1 L443.9,441.1 L447.7,431.5 L451.4,438.5 L455.4,436.7 L459.1,438.7 L463.1,441.7 L467.1,434.1 L471.8,437.9 L475.1,439.1 L478.8,435.5 L483.2,445.4 L486.8,439.7 L493.9,439.3 L497.9,444.9 L501.9,433.3 L505.9,441.7 L509.5,439.3 L513.5,442.3 L517.8,464.8 L521.5,466.0 L526.1,460.2 L529.8,458.0 L533.6,450.0 L537.3,451.2 L541.1,446.4 L544.9,447.0 L548.6,444.4 L552.4,445.9 L556.5,456.0 L560.4,437.4 L564.0,452.7 L568.2,450.5 L572.0,445.9 L575.7,433.9 L579.5,429.4 L583.3,435.0 L587.0,424.4 L591.5,429.4 L594.0,429.8" stroke="#000000" stroke-width="1.7"/>
<path d="M438.3,364.3 L438.3,423.0 L439.7,441.8 L444.4,437.1 L449.0,426.4 L452.4,427.0 L455.7,419.7 L458.4,429.7 L461.1,437.7 L467.1,440.4 L475.1,439.1 L480.5,441.8 L485.8,441.1 L490.5,434.4 L493.9,440.4 L497.9,443.8 L503.2,444.4 L508.6,447.8 L513.8,447.8 L517.9,466.8 L521.2,472.6 L526.2,470.1 L532.8,469.3 L538.5,467.7 L543.5,461.9 L547.6,466.0 L552.6,458.6 L559.2,475.1 L574.0,475.1 L594.0,475.1" stroke="#0000ff" stroke-width="1.7" stroke-dasharray="4.8 4.2"/>
<path d="M438.6,364.3 L439.0,415.0 L439.7,459.1 L441.7,451.1 L444.4,442.4 L448.4,425.7 L451.7,439.1 L455.7,437.5 L461.8,441.1 L467.1,435.7 L472.5,441.1 L477.8,445.8 L481.8,447.8 L486.5,445.1 L491.2,451.1 L496.5,449.8 L500.6,442.4 L505.9,445.1 L509.9,443.8 L513.5,447.3 L517.1,467.7 L521.2,474.3 L529.5,472.6 L537.7,470.1 L546.0,466.8 L552.6,467.7 L559.2,475.1 L577.4,474.3 L594.0,475.1" stroke="#ff0000" stroke-width="1.7" stroke-dasharray="4.8 4.2"/>
<path d="M438.8,418.1 L444.4,380.4 L447.7,368.4 L451.7,385.1 L455.7,377.7 L459.1,377.7 L463.1,392.8 L467.1,394.2 L471.1,391.8 L474.9,390.2 L478.5,405.1 L482.5,404.1 L486.5,407.8 L490.5,409.8 L493.9,408.5 L497.9,416.5 L501.9,405.1 L505.9,405.8 L509.9,407.5 L513.8,406.9 L517.1,443.7 L521.2,446.2 L525.3,438.8 L532.8,435.5 L536.9,429.7 L541.0,428.9 L545.2,433.8 L548.5,428.0 L552.3,416.5 L555.9,444.5 L560.0,454.1 L571.6,452.8 L575.7,447.8 L579.8,454.1 L587.3,450.3 L592.2,456.9 L594.0,456.9" stroke="#ff00ff" stroke-width="1.7"/>
</g>
<line x1="438.50" y1="484.5" x2="438.50" y2="482.5" stroke="#666" stroke-width="0.8"/>
<line x1="438.50" y1="367.5" x2="438.50" y2="369.5" stroke="#666" stroke-width="0.8"/>
<text transform="translate(438.00,494.5) scale(0.88,1)" text-anchor="middle" font-size="8.0" fill="#222">0</text>
<line x1="477.25" y1="484.5" x2="477.25" y2="482.5" stroke="#666" stroke-width="0.8"/>
<line x1="477.25" y1="367.5" x2="477.25" y2="369.5" stroke="#666" stroke-width="0.8"/>
<text transform="translate(476.75,494.5) scale(0.88,1)" text-anchor="middle" font-size="8.0" fill="#222">500</text>
<line x1="516.00" y1="484.5" x2="516.00" y2="482.5" stroke="#666" stroke-width="0.8"/>
<line x1="516.00" y1="367.5" x2="516.00" y2="369.5" stroke="#666" stroke-width="0.8"/>
<text transform="translate(515.50,494.5) scale(0.88,1)" text-anchor="middle" font-size="8.0" fill="#222">1000</text>
<line x1="554.75" y1="484.5" x2="554.75" y2="482.5" stroke="#666" stroke-width="0.8"/>
<line x1="554.75" y1="367.5" x2="554.75" y2="369.5" stroke="#666" stroke-width="0.8"/>
<text transform="translate(554.25,494.5) scale(0.88,1)" text-anchor="middle" font-size="8.0" fill="#222">1500</text>
<line x1="593.50" y1="484.5" x2="593.50" y2="482.5" stroke="#666" stroke-width="0.8"/>
<line x1="593.50" y1="367.5" x2="593.50" y2="369.5" stroke="#666" stroke-width="0.8"/>
<text transform="translate(593.00,494.5) scale(0.88,1)" text-anchor="middle" font-size="8.0" fill="#222">2000</text>
<line x1="438.5" y1="484.50" x2="440.5" y2="484.50" stroke="#666" stroke-width="0.8"/>
<line x1="593.5" y1="484.50" x2="591.5" y2="484.50" stroke="#666" stroke-width="0.8"/>
<text transform="translate(435.5,487.50) scale(0.88,1)" text-anchor="end" font-size="8.0" fill="#222">0</text>
<line x1="438.5" y1="465.00" x2="440.5" y2="465.00" stroke="#666" stroke-width="0.8"/>
<line x1="593.5" y1="465.00" x2="591.5" y2="465.00" stroke="#666" stroke-width="0.8"/>
<text transform="translate(435.5,468.00) scale(0.88,1)" text-anchor="end" font-size="8.0" fill="#222">5</text>
<line x1="438.5" y1="445.50" x2="440.5" y2="445.50" stroke="#666" stroke-width="0.8"/>
<line x1="593.5" y1="445.50" x2="591.5" y2="445.50" stroke="#666" stroke-width="0.8"/>
<text transform="translate(435.5,448.50) scale(0.88,1)" text-anchor="end" font-size="8.0" fill="#222">10</text>
<line x1="438.5" y1="426.00" x2="440.5" y2="426.00" stroke="#666" stroke-width="0.8"/>
<line x1="593.5" y1="426.00" x2="591.5" y2="426.00" stroke="#666" stroke-width="0.8"/>
<text transform="translate(435.5,429.00) scale(0.88,1)" text-anchor="end" font-size="8.0" fill="#222">15</text>
<line x1="438.5" y1="406.50" x2="440.5" y2="406.50" stroke="#666" stroke-width="0.8"/>
<line x1="593.5" y1="406.50" x2="591.5" y2="406.50" stroke="#666" stroke-width="0.8"/>
<text transform="translate(435.5,409.50) scale(0.88,1)" text-anchor="end" font-size="8.0" fill="#222">20</text>
<line x1="438.5" y1="387.00" x2="440.5" y2="387.00" stroke="#666" stroke-width="0.8"/>
<line x1="593.5" y1="387.00" x2="591.5" y2="387.00" stroke="#666" stroke-width="0.8"/>
<text transform="translate(435.5,390.00) scale(0.88,1)" text-anchor="end" font-size="8.0" fill="#222">25</text>
<line x1="438.5" y1="367.50" x2="440.5" y2="367.50" stroke="#666" stroke-width="0.8"/>
<line x1="593.5" y1="367.50" x2="591.5" y2="367.50" stroke="#666" stroke-width="0.8"/>
<text transform="translate(435.5,370.50) scale(0.88,1)" text-anchor="end" font-size="8.0" fill="#222">30</text>
<text x="516.0" y="505.7" text-anchor="middle" font-size="8.2" fill="#222">Rounds</text>
<text transform="translate(424.3,426.0) rotate(-90)" x="0" y="0" text-anchor="middle" font-size="8.1" fill="#222">Norm of Grad</text>
<text transform="translate(516.0,364.2) scale(0.97,1)" text-anchor="middle" font-size="8.2" font-weight="bold" fill="#000" stroke="#000" stroke-width="0.15">( i ) s-FedAdam</text>
</svg>
</body></html>
